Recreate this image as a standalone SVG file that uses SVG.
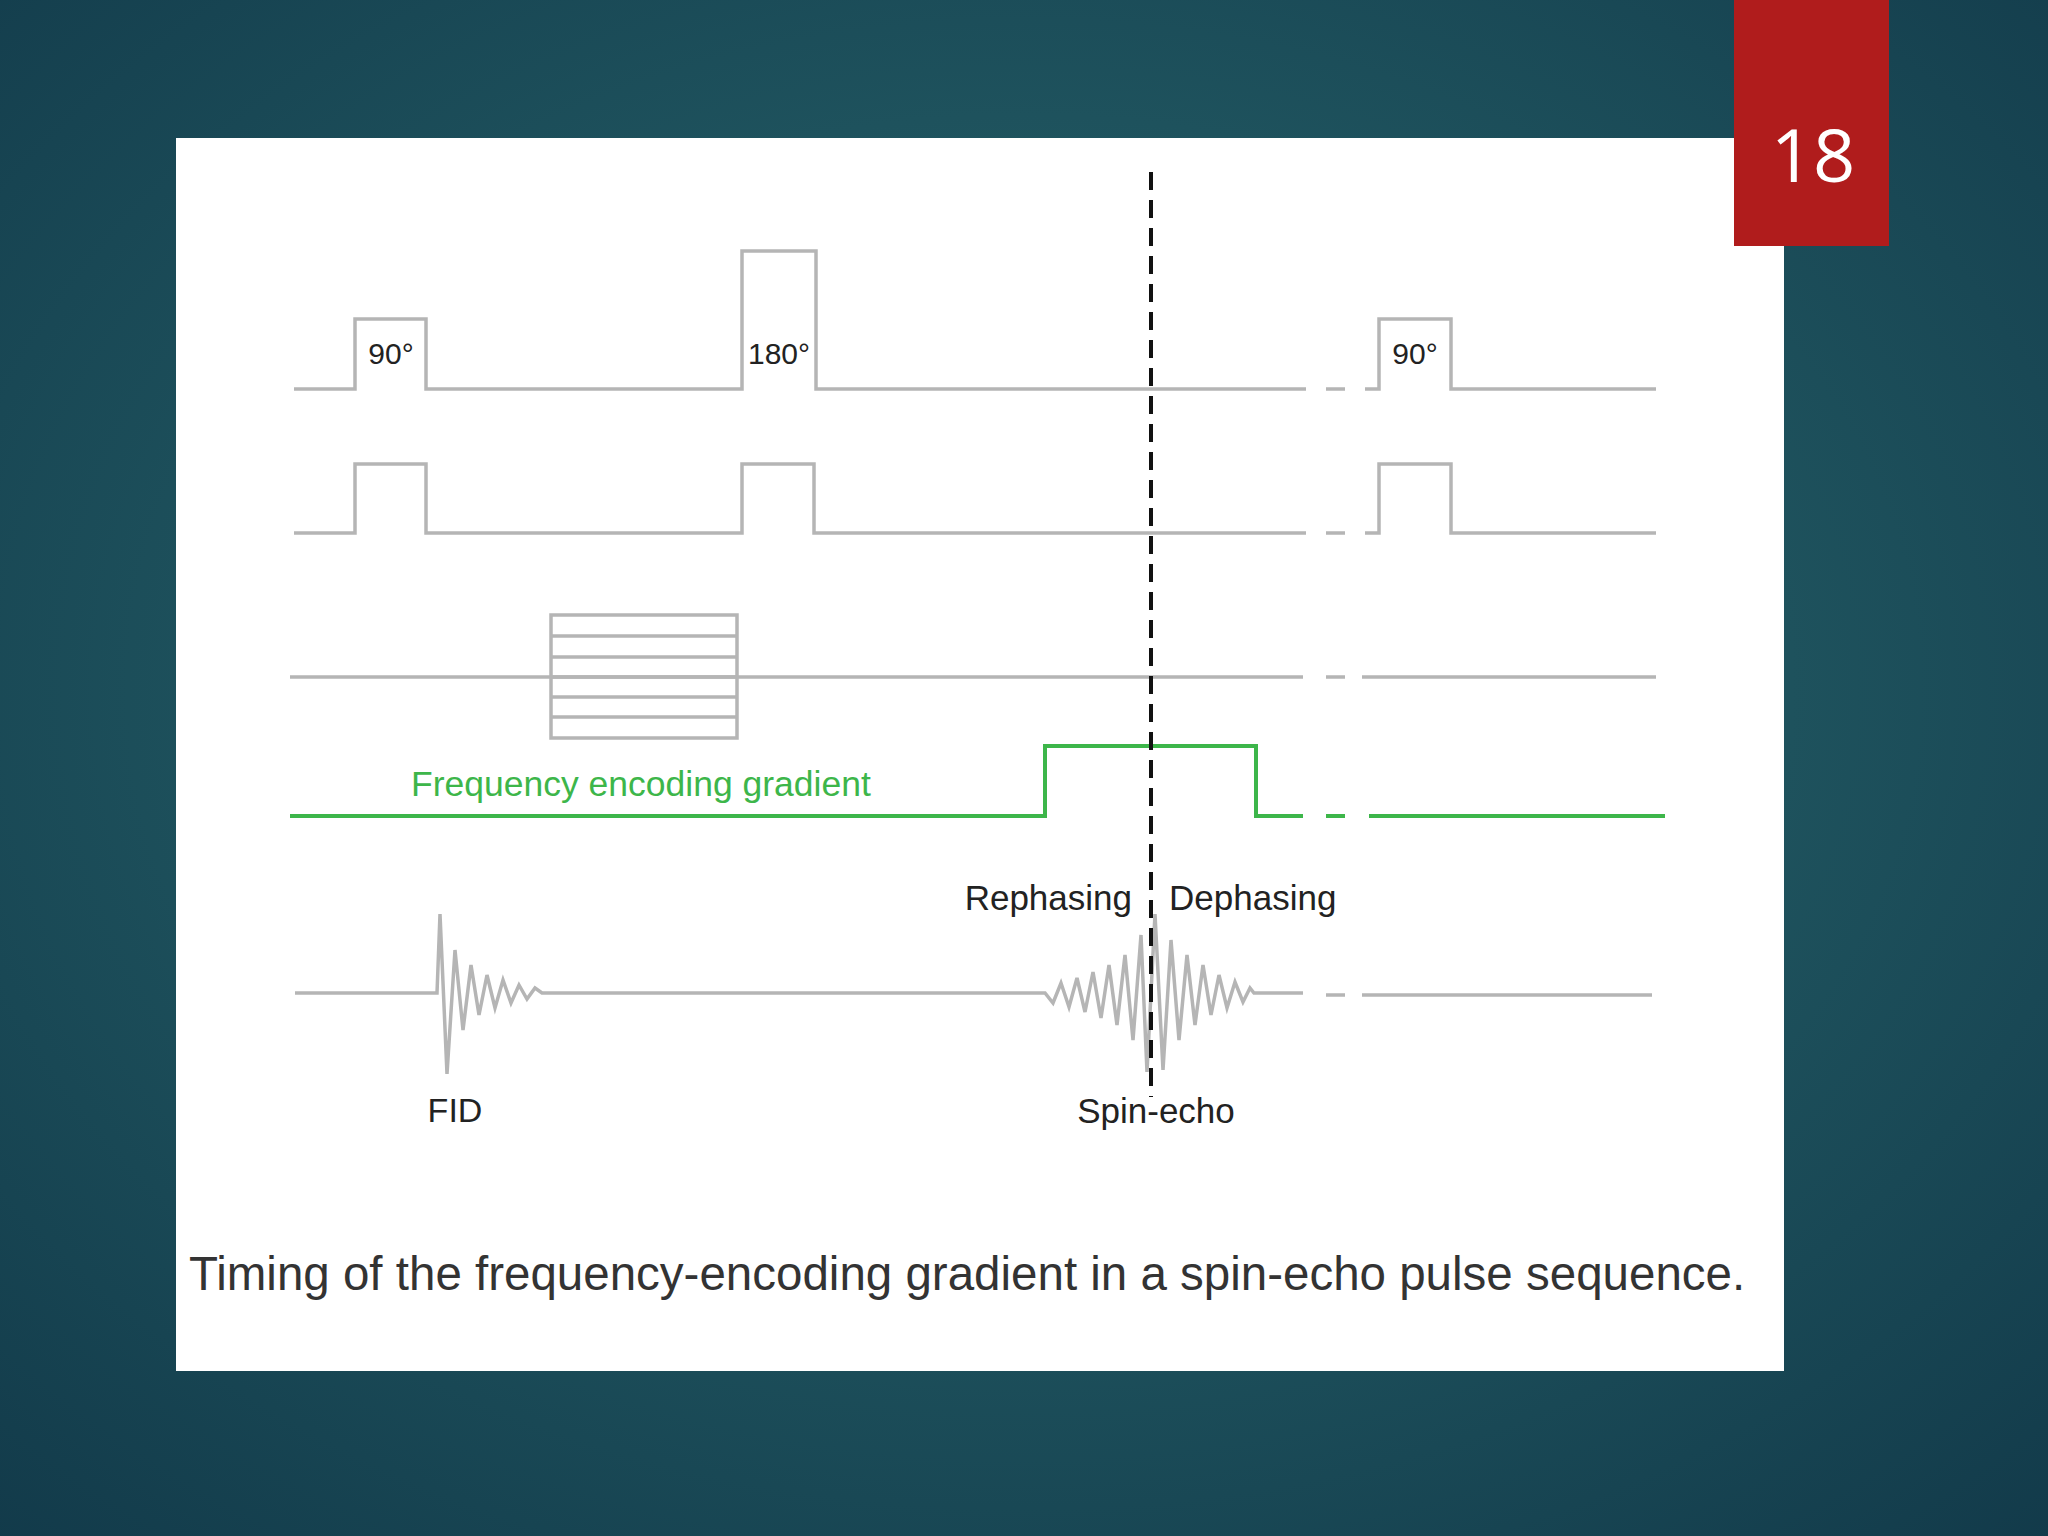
<svg xmlns="http://www.w3.org/2000/svg" width="2048" height="1536" viewBox="0 0 2048 1536">
<defs>
<radialGradient id="bg" cx="0.5" cy="0.45" r="0.75">
<stop offset="0" stop-color="#2a6a70"/>
<stop offset="1" stop-color="#123a4a"/>
</radialGradient>
<style>
.g{fill:none;stroke:#b5b5b5;stroke-width:3.5}
.gr{fill:none;stroke:#3db64a;stroke-width:4}
.t{font-family:"Liberation Sans",Arial,sans-serif;fill:#222}
</style>
</defs>
<rect width="2048" height="1536" fill="url(#bg)"/>
<rect x="176" y="138" width="1608" height="1233" fill="#ffffff"/>
<rect x="1734" y="0" width="155" height="246" fill="#b01c1c"/>
<text x="1813" y="182" font-family="Open Sans,sans-serif" font-size="74" fill="#ffffff" text-anchor="middle">18</text>
<g id="rf">
<path class="g" d="M294 389H355V319H426V389H742V251H816V389H1306"/>
<path class="g" d="M1326 389H1345M1365 389H1379V319H1451V389H1656"/>
<text class="t" x="391" y="364" font-size="30" text-anchor="middle">90°</text>
<text class="t" x="779" y="364" font-size="30" text-anchor="middle">180°</text>
<text class="t" x="1415" y="364" font-size="30" text-anchor="middle">90°</text>
</g>
<g id="slice">
<path class="g" d="M294 533H355V464H426V533H742V464H814V533H1306"/>
<path class="g" d="M1326 533H1345M1365 533H1379V464H1451V533H1656"/>
</g>
<g id="phase">
<path class="g" d="M290 677H1303M1326 677H1345M1362 677H1656"/>
<rect class="g" x="551" y="615" width="186" height="123"/>
<path class="g" d="M551 636H737M551 657H737M551 677H737M551 697H737M551 717H737"/>
</g>
<g id="freq">
<path class="gr" d="M290 816H1045V746H1256V816H1303M1326 816H1345M1369 816H1665"/>
<text x="411" y="796" font-family="Liberation Sans,Arial,sans-serif" font-size="35.5" fill="#3db64a">Frequency encoding gradient</text>
</g>
<g id="signal">
<polyline class="g" points="295,993 437,993 440,914 447,1074 455,950 463,1030 471,965 479,1015 487,975 495,1008 503,980 511,1003 519,985 527,999 535,988 542,993 1045,993 1053,1003 1061,983 1069,1007 1077,978 1085,1012 1093,972 1101,1018 1109,965 1117,1025 1125,955 1133,1040 1141,935 1147,1072 1155,914 1163,1070 1171,940 1179,1040 1187,955 1195,1025 1203,965 1211,1015 1219,975 1227,1008 1235,982 1243,1002 1250,988 1254,993 1303,993"/>
<path class="g" d="M1326 995H1345M1362 995H1652"/>
<text class="t" x="455" y="1122" font-size="34" text-anchor="middle">FID</text>
<text class="t" x="1156" y="1123" font-size="35" text-anchor="middle">Spin-echo</text>
<text class="t" x="1132" y="910" font-size="35" text-anchor="end">Rephasing</text>
<text class="t" x="1169" y="910" font-size="35">Dephasing</text>
</g>
<g id="connectors">
<line x1="1151" y1="172" x2="1151" y2="1097" stroke="#111" stroke-width="4" stroke-dasharray="18,10"/>
</g>
<text x="189" y="1290" font-family="Liberation Sans,Arial,sans-serif" font-size="47.5" fill="#333">Timing of the frequency-encoding gradient in a spin-echo pulse sequence.</text>
</svg>
